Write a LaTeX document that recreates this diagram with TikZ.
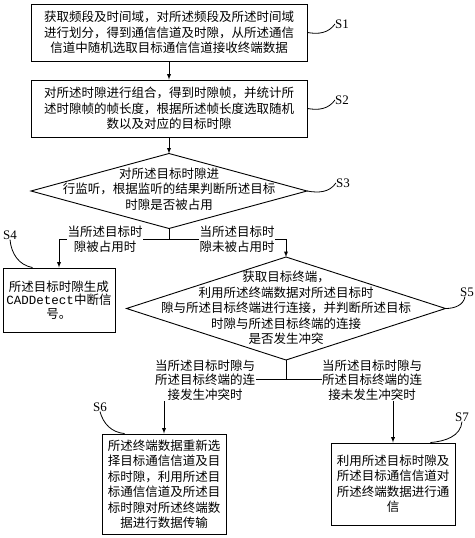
\documentclass[tikz,border=0pt]{standalone}
\usepackage{fontspec}
\setmainfont{Liberation Serif}
\newfontfamily\cjk{Noto Sans CJK SC}
\newfontfamily\asc{Liberation Mono}
\usetikzlibrary{shapes.geometric}

\begin{document}
\begin{tikzpicture}[>=latex,x=1pt,y=-1pt]
\tikzstyle{box}=[draw,line width=0.9pt,inner sep=0pt,align=center,font=\cjk\fontsize{12.5}{15.5}\selectfont]%
\tikzstyle{decision}=[draw,diamond,line width=0.9pt,inner sep=0pt,outer sep=0pt]%
\tikzstyle{txt}=[align=center,inner sep=0.5pt,font=\cjk\fontsize{12.5}{15.5}\selectfont]%
\tikzstyle{cond}=[txt,fill=white]%
\tikzstyle{tag}=[inner sep=0pt,font=\fontsize{13}{13}\selectfont]%
\useasboundingbox (0,0) rectangle (474,538);
% steps
\node[box,minimum width=276pt,minimum height=57pt] (s1) at (169,32.5) {获取频段及时间域，对所述频段及所述时间域\\进行划分，得到通信信道及时隙，从所述通信\\信道中随机选取目标通信信道接收终端数据};
\node[box,minimum width=276pt,minimum height=57pt] (s2) at (169,108.5) {对所述时隙进行组合，得到时隙帧，并统计所\\述时隙帧的帧长度，根据所述帧长度选取随机\\数以及对应的目标时隙};
\node[decision,minimum width=276pt,minimum height=75pt] (s3) at (169,191) {};
\node[txt] (q3) at (169,189) {对所述目标时隙进\\行监听，根据监听的结果判断所述目标\\时隙是否被占用};
\node[box,minimum width=112pt,minimum height=64pt,font=\cjk\fontsize{12.5}{13.5}\selectfont] (s4) at (59,300) {所述目标时隙生成\\{\asc CADDetect}中断信\\号。};
\node[decision,minimum width=319pt,minimum height=103pt] (s5) at (286,308.5) {};
\node[txt] (q5) at (286,308) {获取目标终端，\\利用所述终端数据对所述目标时\\隙与所述目标终端进行连接，并判断所述目标\\时隙与所述目标终端的连接\\是否发生冲突};
\node[box,minimum width=124pt,minimum height=100pt] (s6) at (164,484) {所述终端数据重新选\\择目标通信信道及目\\标时隙，利用所述目\\标通信信道及所述目\\标时隙对所述终端数\\据进行数据传输};
\node[box,minimum width=124pt,minimum height=82pt] (s7) at (393,484) {利用所述目标时隙及\\所述目标通信信道对\\所述终端数据进行通\\信};
% arrows
\draw[line width=0.9pt,->] (s1) -- (s2);
\draw[line width=0.9pt,->] (s2) -- (s3);
\draw[line width=0.9pt] (s3.south) -- ++(0,11) coordinate (b3);
\draw[line width=0.9pt,->] (b3) -| (s4.north);
\draw[line width=0.9pt,->] (b3) -| (s5.north);
\draw[line width=0.9pt] (s5.south) -- ++(0,19) coordinate (b5);
\draw[line width=0.9pt,->] (b5) -| (s6.north);
\draw[line width=0.9pt,->] (b5) -| (s7.north);
% conditions
\node[cond] (c3l) at (105,239.5) {当所述目标时\\隙被占用时};
\node[cond] (c3r) at (237,239.5) {当所述目标时\\隙未被占用时};
\node[cond,font=\cjk\fontsize{12.5}{14.5}\selectfont] (c5l) at (205,380) {当所述目标时隙与\\所述目标终端的连\\接发生冲突时};
\node[cond,font=\cjk\fontsize{12.5}{14.5}\selectfont] (c5r) at (372,380) {当所述目标时隙与\\所述目标终端的连\\接未发生冲突时};
% tags
\node[tag] (t1) at (342,24) {S1};
\node[tag] (t2) at (342,100) {S2};
\node[tag] (t3) at (343,183) {S3};
\node[tag] (t4) at (10,235) {S4};
\node[tag] (t5) at (467,292) {S5};
\node[tag] (t6) at (100,407) {S6};
\node[tag] (t7) at (462,417) {S7};
\draw[line width=0.8pt] (s1.east) to[out=-10,in=235] (t1.west);
\draw[line width=0.8pt] (s2.east) to[out=-10,in=235] (t2.west);
\draw[line width=0.8pt] (s3.east) to[out=-10,in=235] (t3.west);
\draw[line width=0.8pt] (t4.south) to[out=-85,in=170] ([xshift=30pt]s4.north west);
\draw[line width=0.8pt] (s5.east) to[out=0,in=-100] ([xshift=-2pt]t5.south);
\draw[line width=0.8pt] (t6.south) to[out=-75,in=175] ([xshift=23pt]s6.north west);
\draw[line width=0.8pt] (t7.south) to[out=-95,in=5] ([xshift=-25pt]s7.north east);
\end{tikzpicture}
\end{document}
